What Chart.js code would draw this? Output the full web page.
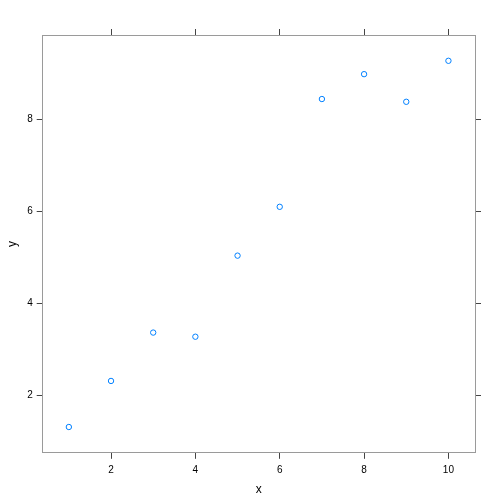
<!DOCTYPE html>
<html>
<head>
<meta charset="utf-8">
<script src="https://cdn.jsdelivr.net/npm/chart.js@4"></script>
<style>
  html, body { margin: 0; padding: 0; background: #fff; }
  #wrap { width: 504px; height: 504px; }
</style>
</head>
<body>
<div id="wrap"><canvas id="mycanvas"></canvas></div>
<script>
// data
const xValues = [1, 2, 3, 4, 5, 6, 7, 8, 9, 10];
const yValues = [1.32, 2.32, 3.37, 3.28, 5.04, 6.1, 8.44, 8.98, 8.38, 9.27];
const xTicks = [2, 4, 6, 8, 10];
const yTicks = [2, 4, 6, 8];

const points = xValues.map((x, i) => ({ x: x, y: yValues[i] }));

const tickFont = { family: 'Liberation Sans, Arial, sans-serif', size: 10 };
const titleFont = { family: 'Liberation Sans, Arial, sans-serif', size: 12 };

function axis(position, min, max, ticks, size, labels, title) {
    const horizontal = position === 'top' || position === 'bottom';
    return {
        type: 'linear',
        position: position,
        min: min,
        max: max,
        afterBuildTicks: function(scale) {
            scale.ticks = ticks.map(v => ({ value: v }));
        },
        afterFit: function(scale) {
            if (horizontal) scale.height = size; else scale.width = size;
        },
        border: { display: true, color: '#9a9a9a', width: 1 },
        grid: {
            drawOnChartArea: false,
            drawTicks: true,
            tickLength: 6,
            tickColor: '#444',
            tickWidth: 1
        },
        ticks: {
            color: '#000',
            font: tickFont,
            padding: horizontal ? 5 : 4,
            maxRotation: 0,
            callback: labels ? (v => v) : (() => '')
        },
        title: title ? {
            display: true,
            text: title,
            color: '#000',
            font: titleFont,
            padding: horizontal ? { top: 7, bottom: 7 } : { top: 5, bottom: 5 }
        } : { display: false }
    };
}

const ctx = document.getElementById('mycanvas');
new Chart(ctx, {
    type: 'scatter',
    data: {
        datasets: [{
            label: 'y',
            data: points,
            pointStyle: 'circle',
            pointRadius: 2.7,
            pointBorderWidth: 1,
            pointBorderColor: '#0080ff',
            pointBackgroundColor: 'rgba(0,0,0,0)',
            pointHoverRadius: 2.7
        }]
    },
    options: {
        responsive: true,
        maintainAspectRatio: false,
        animation: false,
        layout: { padding: 0 },
        plugins: {
            legend: { display: false },
            tooltip: { enabled: false }
        },
        scales: {
            x: axis('bottom', 0.38, 10.63, xTicks, 51.2, true, 'x'),
            x2: axis('top', 0.38, 10.63, xTicks, 35, false, null),
            y: axis('left', 0.76, 9.83, yTicks, 42.7, true, 'y'),
            y2: axis('right', 0.76, 9.83, yTicks, 29, false, null)
        }
    }
});
</script>
</body>
</html>
